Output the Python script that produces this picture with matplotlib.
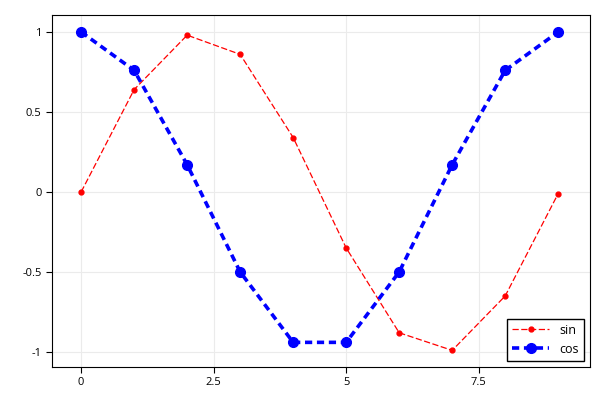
import matplotlib
matplotlib.use("Agg")
import matplotlib.pyplot as plt

plt.rcParams['font.family'] = ['Open Sans', 'DejaVu Sans']
x = [0, 1, 2, 3, 4, 5, 6, 7, 8, 9]
sin_v = [0.0, 0.64, 0.98, 0.86, 0.34, -0.35, -0.88, -0.99, -0.65, -0.01]
cos_v = [1.0, 0.76, 0.17, -0.5, -0.94, -0.94, -0.5, 0.17, 0.76, 1.0]
xticks = [0, 2.5, 5, 7.5]
xlabels = ["0", "2.5", "5", "7.5"]
yticks = [-1, -0.5, 0, 0.5, 1]
ylabels = ["-1", "-0.5", "0", "0.5", "1"]

fig = plt.figure(figsize=(6, 4), dpi=100)
ax = fig.add_axes([52/600, 1-367/400, 538/600, 352/400])
ax.plot(x, sin_v, color='red', ls=(0, (5, 2)), lw=0.9, marker='o', ms=3.5, label='sin')
ax.plot(x, cos_v, color='blue', ls=(0, (2, 1.3)), lw=2.6, marker='o', ms=7, label='cos')
ax.set_xlim(-0.55, 9.6)
ax.set_ylim(-1.094, 1.106)
ax.set_xticks(xticks, xlabels)
ax.set_yticks(yticks, ylabels)
ax.grid(True, color='#ebebeb', lw=0.8)
ax.tick_params(labelsize=8, length=4, direction='out')
leg = ax.legend(loc='lower right', fontsize=9, fancybox=False, edgecolor='black',
                framealpha=1, handlelength=3)
fig.savefig('out.png')
